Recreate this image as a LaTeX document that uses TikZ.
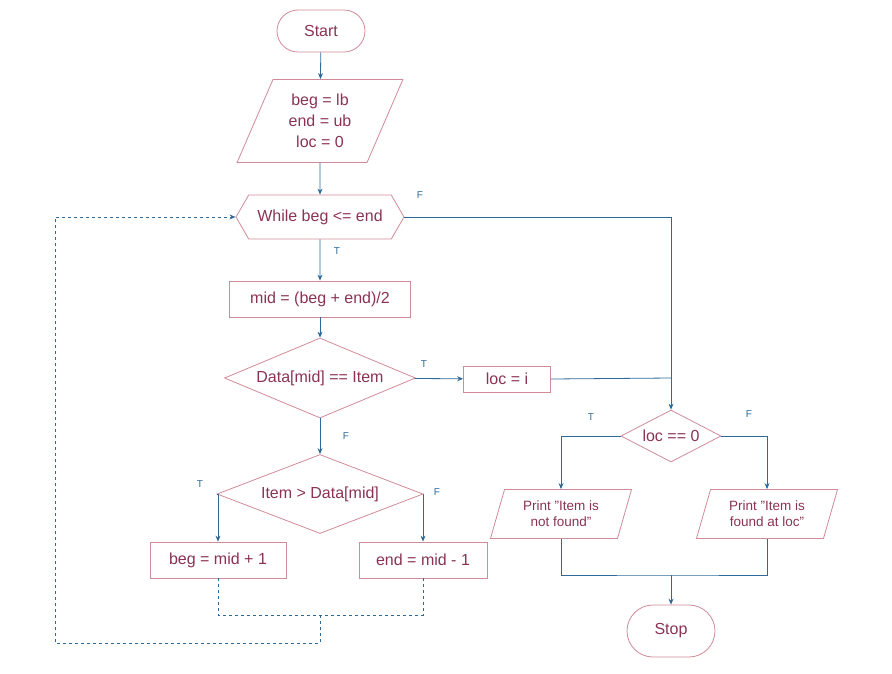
\documentclass[tikz,border=0pt]{standalone}
\usepackage{fontspec}
\setmainfont{Liberation Sans}
\usetikzlibrary{shapes.geometric,shapes.misc,shapes.symbols,arrows.meta}
\definecolor{bd}{HTML}{D08A9A}
\definecolor{tx}{HTML}{8A3355}
\definecolor{ln}{HTML}{2E6A99}
\begin{document}
\begin{tikzpicture}[x=1pt,y=-1pt,line width=0.8pt,
  every node/.style={text=tx,font=\fontsize{16}{21}\selectfont},
  box/.style={draw=bd,fill=white,rectangle,inner sep=0pt},
  para/.style={draw=bd,trapezium,trapezium stretches=true,inner sep=0pt,align=center},
  dia/.style={draw=bd,diamond,aspect=2.4,inner sep=0pt},
  lab/.style={text=ln,font=\fontsize{10}{12}\selectfont},
  ar/.style={draw=ln,-{Stealth[length=6pt,width=5pt]}},
  ln/.style={draw=ln},
  dl/.style={draw=ln,dashed}]
\useasboundingbox (0,0) rectangle (892,673);
\node[box,rounded rectangle,minimum width=88,minimum height=42] (start) at (321,31) {Start};
\node[para,trapezium left angle=66,trapezium right angle=114,minimum width=166,minimum height=83] (init) at (320,121) {beg = lb\\end = ub\\loc = 0};
\node[draw=bd,signal,signal to=west and east,signal pointer angle=120,minimum width=168,minimum height=44,inner sep=0pt] (wh) at (320,217) {While beg <= end};
\node[box,minimum width=181,minimum height=36] (mid) at (320,299) {mid = (beg + end)/2};
\node[dia,minimum width=191,minimum height=80] (d1) at (320,378) {Data[mid] == Item};
\node[box,minimum width=87,minimum height=26] (loci) at (507,379) {loc = i};
\node[dia,minimum width=206,minimum height=79] (d2) at (320,494) {Item > Data[mid]};
\node[box,minimum width=136,minimum height=36] (bm) at (218,560) {beg = mid + 1};
\node[box,minimum width=128,minimum height=36] (em) at (423,560) {end = mid - 1};
\node[dia,minimum width=100,minimum height=52] (d3) at (671,436) {loc == 0};
\node[para,trapezium left angle=70,trapezium right angle=110,minimum width=142,minimum height=49,font=\fontsize{13.5}{16}\selectfont] (pn) at (561,514) {Print "Item is\\not found"};
\node[para,trapezium left angle=70,trapezium right angle=110,minimum width=142,minimum height=49,font=\fontsize{13.5}{16}\selectfont] (pf) at (767,514) {Print "Item is\\found at loc"};
\node[box,rounded rectangle,minimum width=88,minimum height=52] (stop) at (671,631) {Stop};
\coordinate (jr) at (671,217);
\coordinate (jl) at (671,378);
\coordinate (bj) at (671,575);
\coordinate (dj) at (320,615);
\draw[ar] (start) -- (init);
\draw[ar] (init) -- (wh);
\draw[ar] (wh) -- (mid);
\draw[ar] (mid) -- (d1);
\draw[ar] (d1) -- (loci);
\draw[ar] (d1) -- (d2);
\draw[ar] (d2.west) -| (bm.north);
\draw[ar] (d2.east) -| (em.north);
\draw[ln] (wh.east) -- (jr);
\draw[ar] (jr) -- (d3.north);
\draw[ln] (loci.east) -- (jl);
\draw[ar] (d3.west) -| (pn.north);
\draw[ar] (d3.east) -| (pf.north);
\draw[ln] (pn.south) |- (bj) -| (pf.south);
\draw[ar] (bj) -- (stop.north);
\draw[dl] (bm.south) |- (dj) -| (em.south);
\draw[dl,-{Stealth[length=6pt,width=5pt]}] (dj) -- (320,643) -- (55,643) -- (55,217) -- (wh.west);
\node[lab] at (420,195) {F};
\node[lab] at (337,251) {T};
\node[lab] at (424,364) {T};
\node[lab] at (346,436) {F};
\node[lab] at (200,484) {T};
\node[lab] at (437,492) {F};
\node[lab] at (591,417) {T};
\node[lab] at (749,414) {F};
\end{tikzpicture}
\end{document}
